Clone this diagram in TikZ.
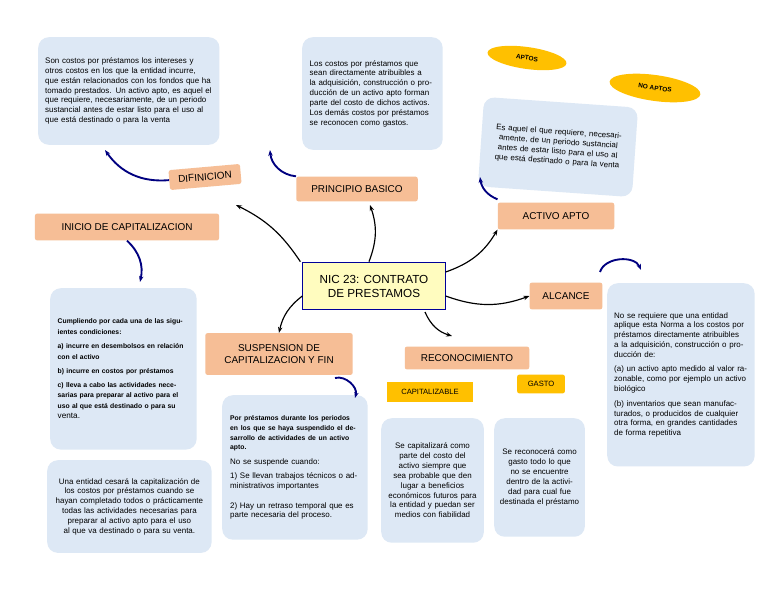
\documentclass[tikz,border=0pt]{standalone}
\usepackage{fontspec}
\setmainfont{Liberation Sans}
\usetikzlibrary{arrows.meta,shapes.geometric}
\definecolor{nb}{RGB}{221,232,245}
\definecolor{org}{RGB}{246,190,150}
\definecolor{yl}{RGB}{255,192,0}
\begin{document}
\begin{tikzpicture}[x=0.03cm,y=-0.03cm,
 note/.style={fill=nb, rounded corners=9pt, inner sep=4pt, font=\fontsize{6.8}{8.4}\selectfont},
 lab/.style={fill=org, rounded corners=2pt, font=\fontsize{8.5}{10}\selectfont},
 yel/.style={fill=yl, font=\bfseries\fontsize{5.5}{7}\selectfont},
 barr/.style={-{Stealth[length=5pt]}, line width=1pt},
 uarr/.style={-{Stealth[length=5pt]}, line width=1.6pt, draw=blue!50!black}]
\useasboundingbox (0,0) rectangle (768,594);
\fill[white] (0,0) rectangle (768,594);
% notes
\node[note, text width=168*0.85pt, minimum width=182*0.85pt, minimum height=108*0.85pt, align=left, anchor=north west] (n1) at (38,37) {Son costos por préstamos los intereses y otros costos en los que la entidad incurre, que están relacionados con los fondos que ha tomado prestados. Un activo apto, es aquel el que requiere, necesariamente, de un periodo sustancial antes de estar listo para el uso al que está destinado o para la venta};
\node[note, text width=126*0.85pt, minimum width=141*0.85pt, minimum height=113*0.85pt, align=left, anchor=north west] (n2) at (302,37) {Los costos por préstamos que sean directamente atribuibles a la adquisición, construcción o producción de un activo apto forman parte del costo de dichos activos. Los demás costos por préstamos se reconocen como gastos.};
\node[note, rotate=-4, text width=140*0.85pt, minimum width=155*0.85pt, minimum height=90*0.85pt, align=center] (n3) at (558,147) {Es aquel el que requiere, necesariamente, de un periodo sustancial antes de estar listo para el uso al que está destinado o para la venta};
\node[note, text width=132*0.85pt, minimum width=147*0.85pt, minimum height=162*0.85pt, align=left, anchor=north west, font=\bfseries\fontsize{5.8}{9}\selectfont] (n4) at (50,288) {Cumpliendo por cada una de las siguientes condiciones:\\[3pt] a) incurre en desembolsos en relación con el activo\\[3pt] b) incurre en costos por préstamos\\[3pt] c) lleva a cabo las actividades necesarias para preparar al activo para el uso al que está destinado o para su {\mdseries\fontsize{7}{9}\selectfont venta.}};
\node[note, text width=134*0.85pt, minimum width=148*0.85pt, minimum height=184*0.85pt, align=left, anchor=north west] (n5) at (607,283) {No se requiere que una entidad aplique esta Norma a los costos por préstamos directamente atribuibles a la adquisición, construcción o producción de:\\[4pt] (a) un activo apto medido al valor razonable, como por ejemplo un activo biológico\\[4pt] (b) inventarios que sean manufacturados, o producidos de cualquier otra forma, en grandes cantidades de forma repetitiva};
\node[note, text width=130*0.85pt, minimum width=146*0.85pt, minimum height=145*0.85pt, align=left, anchor=north west] (n6) at (222,395) {{\bfseries\fontsize{5.8}{9}\selectfont Por préstamos durante los periodos en los que se haya suspendido el desarrollo de actividades de un activo apto.}\\[4pt] No se suspende cuando:\\[4pt] 1) Se llevan trabajos técnicos o administrativos importantes\\[8pt] 2) Hay un retraso temporal que es parte necesaria del proceso.};
\node[note, text width=152*0.85pt, minimum width=165*0.85pt, minimum height=93*0.85pt, align=center, anchor=north west] (n7) at (47,460) {Una entidad cesará la capitalización de los costos por préstamos cuando se hayan completado todos o prácticamente todas las actividades necesarias para preparar al activo apto para el uso al que va destinado o para su venta.};
\node[note, text width=92*0.85pt, minimum width=103*0.85pt, minimum height=125*0.85pt, align=center, anchor=north west] (n8) at (381,418) {Se capitalizará como parte del costo del activo siempre que sea probable que den lugar a beneficios económicos futuros para la entidad y puedan ser medios con fiabilidad};
\node[note, text width=80*0.85pt, minimum width=91*0.85pt, minimum height=119*0.85pt, align=center, anchor=north west] (n9) at (494,418) {Se reconocerá como gasto todo lo que no se encuentre dentro de la actividad para cual fue destinada el préstamo};
% ellipses
\node[yel, ellipse, rotate=-8, minimum width=80*0.85pt, minimum height=22*0.85pt, inner sep=0] (e1) at (527,58) {APTOS};
\node[yel, ellipse, rotate=-8, minimum width=92*0.85pt, minimum height=26*0.85pt, inner sep=0] (e2) at (655,88) {NO APTOS};
% labels
\node[lab, rotate=5, minimum width=72*0.85pt, minimum height=20*0.85pt] (dif) at (205,177) {DIFINICION};
\node[lab, minimum width=122*0.85pt, minimum height=25*0.85pt] (pri) at (357,189) {PRINCIPIO BASICO};
\node[lab, minimum width=185*0.85pt, minimum height=27*0.85pt] (ini) at (127,227) {INICIO DE CAPITALIZACION};
\node[lab, minimum width=117*0.85pt, minimum height=27*0.85pt] (act) at (556,216) {ACTIVO APTO};
\node[lab, minimum width=73*0.85pt, minimum height=27*0.85pt] (alc) at (566,296) {ALCANCE};
\node[lab, minimum width=148*0.85pt, minimum height=42*0.85pt, align=center] (sus) at (279,354) {SUSPENSION DE\\CAPITALIZACION Y FIN};
\node[lab, minimum width=125*0.85pt, minimum height=23*0.85pt] (rec) at (467,358) {RECONOCIMIENTO};
\node[fill=yl, font=\fontsize{6.5}{8}\selectfont, minimum width=86*0.85pt, minimum height=20*0.85pt] (cap) at (430,392) {CAPITALIZABLE};
\node[fill=yl, rounded corners=2pt, minimum width=48*0.85pt, minimum height=19*0.85pt, font=\fontsize{6.5}{8}\selectfont] (gas) at (541,384) {GASTO};
% center
\node[fill=yellow!25, draw=blue!60!black, line width=0.8pt, minimum width=143*0.85pt, minimum height=48*0.85pt, align=center, font=\rmfamily\fontsize{10}{12}\selectfont] (c) at (374,286) {NIC 23: CONTRATO\\DE PRESTAMOS};
% black arrows
\draw[barr] (c.north west) ++(-2,0) to[bend right=15] (236,205);
\draw[barr] (c.north) ++(-5,0) to[bend right=20] (370,205);
\draw[barr] (c.east) ++(0,-14) to[bend right=20] (act.south west);
\draw[barr] (c.east) ++(0,10) to[bend right=20] (alc.west);
\draw[barr] (c.west) ++(0,10) to[bend right=20] (sus.north);
\draw[barr] (425,312) to[bend right=25] (452,336);
% blue arrows
\draw[uarr] (dif.west) to[bend left=30] (105,150);
\draw[uarr] (pri.north west) to[bend left=40] (270,150);
\draw[uarr] (act.north west) ++(0,-3) to[bend left=30] (480,177);
\draw[uarr] (ini.south) to[bend left=30] (140,282);
\draw[uarr] (600,272) to[bend left=70] (641,270);
\draw[uarr] (335,378) to[bend left=60] (355,398);
\end{tikzpicture}
\end{document}
